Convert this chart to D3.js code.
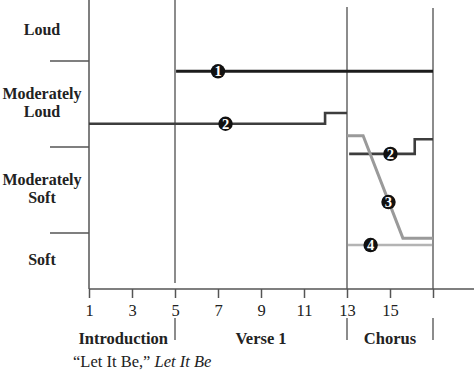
<!DOCTYPE html>
<html>
<head>
<meta charset="utf-8">
<script src="https://cdn.jsdelivr.net/npm/d3@7"></script>
<style>
  body { margin: 0; background: #fff; }
  text { font-family: "Liberation Serif", "DejaVu Serif", serif; fill: #222; }
</style>
</head>
<body>
<div id="chart"></div>
<script>
// dimensions
const width = 474, height = 371;

// data: bars on x, dynamic level on y (band edges at 1, 2, 3)
const levelNames = [["Soft"], ["Moderately", "Soft"], ["Moderately", "Loud"], ["Loud"]];
const bandEdges = [1, 2, 3];
const tickBars = [1, 3, 5, 7, 9, 11, 13, 15, 17];
const tickLabels = ["1", "3", "5", "7", "9", "11", "13", "15", ""];
const sections = [
  {name: "Introduction", start: 1, end: 5},
  {name: "Verse 1", start: 5, end: 13},
  {name: "Chorus", start: 13, end: 17}
];
const line1 = [[5.05, 2.88], [17, 2.88]];
const line2a = [[1, 2.27], [11.98, 2.27], [11.98, 2.395], [13, 2.395]];
const line2b = [[13.1, 1.92], [16.15, 1.92], [16.15, 2.09], [17, 2.09]];
const line3 = [[13, 2.13], [13.75, 2.13], [15.6, 0.94], [17, 0.94]];
const line4 = [[13.05, 0.86], [16.95, 0.86]];
const markers = [
  {n: 1, bar: 7, level: 2.88},
  {n: 2, bar: 7.35, level: 2.27},
  {n: 2, bar: 15.02, level: 1.92},
  {n: 3, bar: 14.93, level: 1.36},
  {n: 4, bar: 14.1, level: 0.86}
];

// scales
const x = d3.scaleLinear().domain([1, 17]).range([89, 433]);
const y = d3.scaleLinear().domain([0, 3]).range([319, 61]);
const axisY = 289;

const svg = d3.select("#chart").append("svg").attr("width", width).attr("height", height);

// y axis line and band separators
svg.append("line").attr("x1", 89).attr("x2", 89).attr("y1", 0).attr("y2", axisY)
  .attr("stroke", "#555").attr("stroke-width", 1.5);
svg.selectAll("line.sep").data(bandEdges).join("line").attr("class", "sep")
  .attr("x1", 50).attr("x2", 89).attr("y1", d => y(d)).attr("y2", d => y(d))
  .attr("stroke", "#555").attr("stroke-width", 1.5);

// level labels, centered in the visible part of each band
const bandMid = i => (Math.max(y(i + 1), 0) + Math.min(y(i), axisY)) / 2;
svg.selectAll("text.level").data(levelNames).join("text").attr("class", "level")
  .attr("text-anchor", "middle").attr("font-weight", "bold").attr("font-size", 16)
  .each(function(d, i) {
    const t = d3.select(this);
    const top = bandMid(i) + 4 - (d.length - 1) * 9;
    d.forEach((s, j) => t.append("tspan").attr("x", 42).attr("y", top + j * 18).text(s));
  });

// section dividers
svg.append("line").attr("x1", x(5)).attr("x2", x(5)).attr("y1", 0).attr("y2", 283)
  .attr("stroke", "#666").attr("stroke-width", 1.5);
svg.append("line").attr("x1", x(13)).attr("x2", x(13)).attr("y1", 7).attr("y2", axisY)
  .attr("stroke", "#666").attr("stroke-width", 1.5);
svg.append("line").attr("x1", x(17)).attr("x2", x(17)).attr("y1", 8).attr("y2", axisY)
  .attr("stroke", "#666").attr("stroke-width", 1.5);

// x axis
const xAxis = d3.axisBottom(x).tickValues(tickBars)
  .tickFormat((d, i) => tickLabels[i]).tickSize(9).tickSizeOuter(0);
const gx = svg.append("g").attr("transform", `translate(0,${axisY})`).call(xAxis);
gx.select(".domain").attr("d", `M89,0H${width}`).attr("stroke", "#555").attr("stroke-width", 1.5);
gx.selectAll(".tick line").attr("stroke", "#555").attr("stroke-width", 1.5);
gx.selectAll(".tick text").attr("font-family", "Liberation Serif, serif")
  .attr("font-size", 16.5).attr("fill", "#222").attr("dy", null).attr("y", 27);

// section markers and labels below the axis
const divs = [5, 13, 17];
svg.selectAll("line.secdiv").data(divs).join("line").attr("class", "secdiv")
  .attr("x1", d => x(d)).attr("x2", d => x(d)).attr("y1", 318).attr("y2", 340)
  .attr("stroke", "#666").attr("stroke-width", 1.5);
svg.selectAll("text.section").data(sections).join("text").attr("class", "section")
  .attr("font-weight", "bold").attr("font-size", 16.5).attr("y", 344)
  .attr("text-anchor", (d, i) => i === 0 ? "end" : "middle")
  .attr("x", (d, i) => i === 0 ? x(d.end) - 7 : (x(d.start) + x(d.end)) / 2)
  .text(d => d.name);

const cap = svg.append("text").attr("x", 73).attr("y", 367).attr("font-size", 16.5);
cap.append("tspan").text("\u201CLet It Be,\u201D ");
cap.append("tspan").attr("font-style", "italic").text("Let It Be");

// lines
const lineGen = d3.line().x(d => x(d[0])).y(d => y(d[1]));
const series = [
  {pts: line1, color: "#1c1c1c", w: 3},
  {pts: line2a, color: "#3d3d3d", w: 2.6},
  {pts: line2b, color: "#3d3d3d", w: 2.6},
  {pts: line3, color: "#9a9a9a", w: 3},
  {pts: line4, color: "#b4b4b4", w: 2.6}
];
svg.selectAll("path.series").data(series).join("path").attr("class", "series")
  .attr("d", d => lineGen(d.pts)).attr("fill", "none")
  .attr("stroke", d => d.color).attr("stroke-width", d => d.w);

// numbered markers
const mk = svg.selectAll("g.marker").data(markers).join("g").attr("class", "marker")
  .attr("transform", d => `translate(${x(d.bar)},${y(d.level)})`);
mk.append("circle").attr("r", 7.2).attr("fill", "#111");
mk.append("text").attr("text-anchor", "middle").attr("dy", 5)
  .attr("font-size", 14.5).attr("font-weight", "bold").style("fill", "#fff")
  .text(d => d.n);
</script>
</body>
</html>
